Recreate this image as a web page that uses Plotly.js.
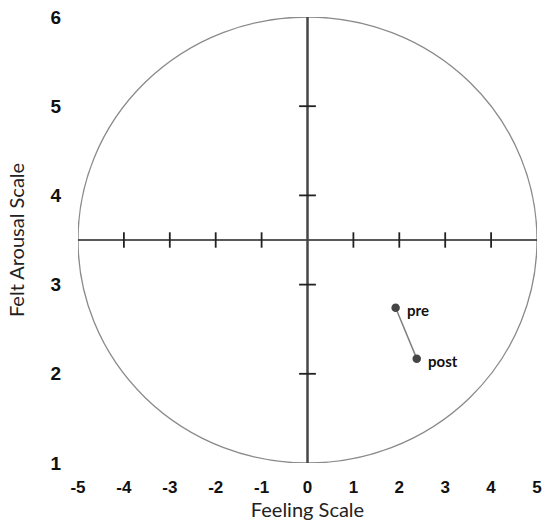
<!DOCTYPE html>
<html>
<head>
<meta charset="utf-8">
<script src="https://cdn.plot.ly/plotly-3.0.1.min.js"></script>
<style>html,body{margin:0;padding:0;background:#fff;}#chart{width:550px;height:530px;}</style>
</head>
<body>
<div id="chart"></div>
<script>
// Data
const sessionLabels = ['pre', 'post'];
const feelingValues = [1.92, 2.38];
const arousalValues = [2.74, 2.17];

// Axis ticks
const xTickValues = [-5, -4, -3, -2, -1, 0, 1, 2, 3, 4, 5];
const yTickValues = [1, 2, 3, 4, 5, 6];

// Cross (circumplex) axes
const crossCenterX = 0;
const crossCenterY = 3.5;
const crossXTicks = [-4, -3, -2, -1, 1, 2, 3, 4];
const crossYTicks = [2, 3, 4, 5];

const xMin = -5, xMax = 5, yMin = 1, yMax = 6;

const traces = [
  {
    x: crossXTicks,
    y: crossXTicks.map(() => crossCenterY),
    mode: 'markers',
    type: 'scatter',
    hoverinfo: 'skip',
    showlegend: false,
    marker: {symbol: 'line-ns', size: 11, line: {color: '#222', width: 1.8}}
  },
  {
    x: crossYTicks.map(() => crossCenterX),
    y: crossYTicks,
    mode: 'markers',
    type: 'scatter',
    hoverinfo: 'skip',
    showlegend: false,
    marker: {symbol: 'line-ew', size: 12, line: {color: '#222', width: 1.8}}
  },
  {
    x: feelingValues,
    y: arousalValues,
    mode: 'lines+markers',
    type: 'scatter',
    showlegend: false,
    line: {color: '#808080', width: 1.5},
    marker: {size: 8.5, color: '#454545'}
  }
];

const pointLabels = sessionLabels.map((t, i) => ({
  x: feelingValues[i], y: arousalValues[i], xref: 'x', yref: 'y',
  text: t, showarrow: false, xanchor: 'left', yanchor: 'middle',
  xshift: 9, yshift: -2,
  font: {family: 'Lato, "Open Sans", sans-serif', size: 15, color: '#111', weight: 'bold'}
}));

const layout = {
  width: 550,
  height: 530,
  margin: {l: 78, r: 13, t: 17, b: 67},
  paper_bgcolor: '#fff',
  plot_bgcolor: '#fff',
  showlegend: false,
  xaxis: {
    range: [xMin, xMax],
    tickvals: xTickValues,
    ticktext: xTickValues.map(String),
    showgrid: false, zeroline: false, showline: false,
    ticks: 'outside', ticklen: 9, tickcolor: 'rgba(0,0,0,0)',
    tickfont: {family: '"Liberation Sans", Arial, sans-serif', size: 17, color: '#111', weight: 'bold'},
    title: {text: 'Feeling Scale', font: {family: 'Lato, "Open Sans", sans-serif', size: 20, color: '#222'}, standoff: 4},
    fixedrange: true
  },
  yaxis: {
    range: [yMin, yMax],
    tickvals: yTickValues,
    ticktext: yTickValues.map(String),
    showgrid: false, zeroline: false, showline: false,
    ticks: 'outside', ticklen: 12, tickcolor: 'rgba(0,0,0,0)',
    tickfont: {family: '"Liberation Sans", Arial, sans-serif', size: 19, color: '#111', weight: 'bold'},
    title: {text: 'Felt Arousal Scale', font: {family: 'Lato, "Open Sans", sans-serif', size: 20, color: '#222'}, standoff: 20},
    fixedrange: true
  },
  annotations: pointLabels,
  shapes: [
    {type: 'circle', xref: 'x', yref: 'y', x0: xMin, x1: xMax, y0: yMin, y1: yMax,
     line: {color: '#8a8a8a', width: 1.3}, layer: 'below'},
    {type: 'line', xref: 'x', yref: 'y', x0: xMin, x1: xMax, y0: crossCenterY, y1: crossCenterY,
     line: {color: '#222', width: 1.6}, layer: 'below'},
    {type: 'line', xref: 'x', yref: 'y', x0: crossCenterX, x1: crossCenterX, y0: yMin, y1: yMax,
     line: {color: '#474747', width: 2.5}, layer: 'below'}
  ]
};

Plotly.newPlot('chart', traces, layout, {displayModeBar: false, staticPlot: true});
</script>
</body>
</html>
